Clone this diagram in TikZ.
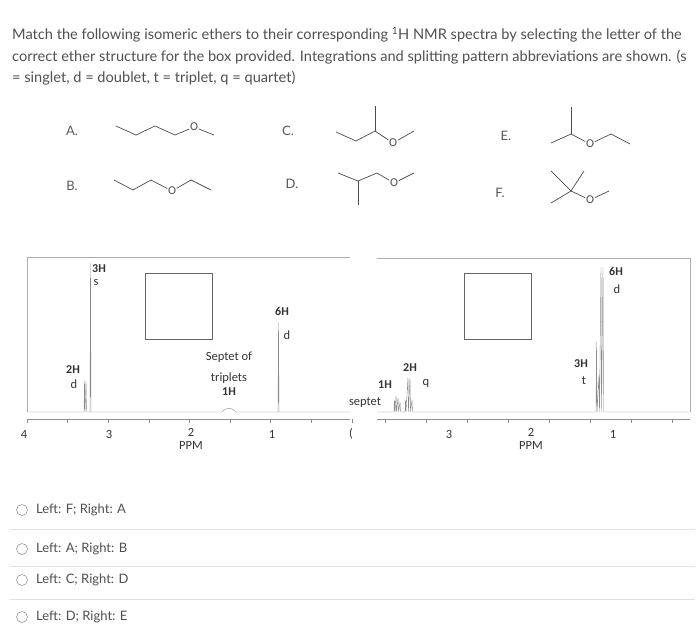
\documentclass[tikz,border=0pt]{standalone}
\usepackage{fontspec}
\setmainfont{Lato}
\newfontfamily\calib{Carlito}
\definecolor{txt}{HTML}{505050}
\definecolor{spec}{HTML}{8A8A8A}
\begin{document}
\begin{tikzpicture}[x=1pt,y=-1pt,
  q/.style={anchor=west,inner sep=0,text=txt,font=\fontsize{14.6}{16}\selectfont},
  bond/.style={draw=black!70,line width=0.7pt},
  ox/.style={inner sep=0.6pt,font=\calib\fontsize{12}{12}\selectfont,text=black!70},
  lab/.style={font=\fontsize{13}{14}\selectfont,text=black!65},
  sp/.style={font=\calib\fontsize{12.5}{13}\selectfont,text=black!80,inner sep=0},
  spb/.style={sp,font=\calib\bfseries\fontsize{12}{13}\selectfont},
  pk/.style={draw=spec,line width=0.4pt},
  opt/.style={anchor=west,inner sep=0,text=txt,font=\fontsize{13}{14}\selectfont},
  rad/.style={circle,draw=black!55,minimum size=11pt,inner sep=0}]
\useasboundingbox (0,0) rectangle (700,642);
\fill[white] (0,0) rectangle (700,642);
% question
\node[q] (q1) at (12,35) {Match the following isomeric ethers to their corresponding \textsuperscript{1}H NMR spectra by selecting the letter of the};
\node[q] (q2) at (12,57) {correct ether structure for the box provided. Integrations and splitting pattern abbreviations are shown. (s};
\node[q] (q3) at (12,78) {= singlet, d = doublet, t = triplet, q = quartet)};
% labels
\node[lab] (la) at (72,131) {A.};
\node[lab] (lb) at (72,186) {B.};
\node[lab] (lc) at (288,131) {C.};
\node[lab] (ld) at (292,184) {D.};
\node[lab] (le) at (506,136) {E.};
\node[lab] (lf) at (500,193) {F.};
% A
\node[ox] (oa) at (194,127) {O};
\draw[bond] (116,126)--(136,135)--(155,126)--(175,135)--(oa)--(214,135);
% B
\node[ox] (ob) at (172,191) {O};
\draw[bond] (114,180)--(133,190)--(151,180)--(ob)--(191,180)--(211,190);
% C
\node[ox] (oc) at (393,143) {O};
\draw[bond] (336,132)--(356,141)--(375,131)--(oc)--(414,131);
\draw[bond] (375,131)--(375,106);
% D
\node[ox] (od) at (394,183) {O};
\draw[bond] (338,173)--(358,181)--(377,173)--(od)--(414,173);
\draw[bond] (358,181)--(358,205);
% E
\node[ox] (oe) at (590,144) {O};
\draw[bond] (551,143)--(571,134)--(oe)--(611,134)--(630,144);
\draw[bond] (571,134)--(571,107);
% F
\node[ox] (of) at (590,200) {O};
\draw[bond] (571,191)--(of)--(609,191);
\draw[bond] (551,171)--(571,191)--(584,171);
\draw[bond] (571,191)--(551,203);
% left spectrum
\draw[spec!70,line width=0.6pt] (27,412)--(27,257)--(350,257);
\draw[pk] (27,412)--(84,412)--(84.5,381)--(85,412)--(86,381)--(86.5,412)--(90,412)--(90.5,263)--(91,412)--(222,412)
  .. controls (226,407) and (232,407) .. (236,412)--(278,412)--(278.5,322)--(279,412)--(350,412);
\draw[black!45,line width=0.5pt] (27,419)--(350,419);
\foreach \p in {0,...,8}{\draw[black!45] ({27+\p*40.6},419)--({27+\p*40.6},423);}
\node[sp] (t4) at (24,434) {4};
\node[sp] (t3) at (109,434) {3};
\node[sp] (t2) at (191,432) {2};
\node[sp] (t1) at (272,434) {1};
\node[sp] (t0) at (351,434) {(};
\node[sp] (ppm1) at (191,445) {PPM};
\node[draw=black!60,minimum width=67pt,minimum height=66pt,inner sep=0] (box1) at (178.5,306) {};
\node[spb] (l3h) at (99,269) {3H};
\node[sp] (ls) at (96,283) {s};
\node[spb] (l2h) at (73,370) {2H};
\node[sp] (l2d) at (74,384) {d};
\node[sp] (sep1) at (229,357) {Septet of};
\node[sp] (sep2) at (229,378) {triplets};
\node[spb] (sep3) at (229,392) {1H};
\node[spb] (l6h) at (282,311) {6H};
\node[sp] (l6d) at (287,335) {d};
% right spectrum
\draw[spec!70,line width=0.6pt] (377,258)--(690,258)--(690,412);
\draw[pk] (377,412)--(394,412)--(394.5,400)--(395,412)--(396,396)--(396.5,412)--(398,398)--(398.5,412)--(400,402)--(400.5,412)
 --(405,412)--(405.5,400)--(406,412)--(408,377)--(408.5,412)--(410,378)--(410.5,412)--(412,400)--(412.5,412)
 --(596,412)--(596.5,342)--(597,412)--(599,375)--(599.5,412)--(601,267)--(601.5,412)--(603,267)--(603.5,412)--(690,412);
\draw[black!45,line width=0.5pt] (377,419)--(690,419);
\foreach \p in {0,...,7}{\draw[black!45] ({385+\p*41},419)--({385+\p*41},423);}
\node[sp] (r3) at (449,434) {3};
\node[sp] (r2) at (531,432) {2};
\node[sp] (r1) at (613,434) {1};
\node[sp] (ppm2) at (531,445) {PPM};
\node[draw=black!60,minimum width=67pt,minimum height=66pt,inner sep=0] (box2) at (497.5,306) {};
\node[spb] (r1h) at (385,385) {1H};
\node[sp] (rsep) at (365,403) {septet};
\node[spb] (r2h) at (410,368) {2H};
\node[sp] (rq) at (426,383) {q};
\node[spb] (r3h) at (581,364) {3H};
\node[sp] (rt) at (584,381) {t};
\node[spb] (r6h) at (616,271) {6H};
\node[sp] (r6d) at (617,289) {d};
% options
\node[rad] (c1) at (22,510) {};
\node[opt] (o1) at (36,510) {Left: F; Right: A};
\node[rad] (c2) at (22,549) {};
\node[opt] (o2) at (36,549) {Left: A; Right: B};
\node[rad] (c3) at (22,580) {};
\node[opt] (o3) at (36,580) {Left: C; Right: D};
\node[rad] (c4) at (22,617) {};
\node[opt] (o4) at (36,617) {Left: D; Right: E};
\foreach \yy in {529,566,599}{\draw[black!12] (10,\yy)--(695,\yy);}
\end{tikzpicture}
\end{document}
